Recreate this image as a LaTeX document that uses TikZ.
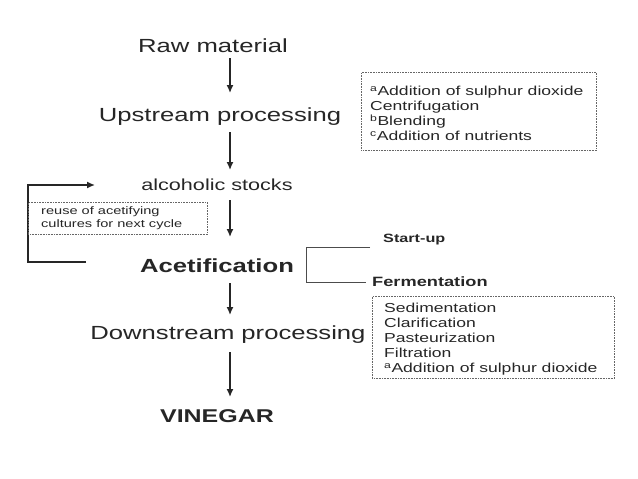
\documentclass[tikz,border=0pt]{standalone}
\usepackage{fontspec}
\setmainfont[FakeStretch=1.35]{Liberation Sans}
\usetikzlibrary{arrows.meta}
\begin{document}
\begin{tikzpicture}[x=1pt,y=-1pt,
 lab/.style={text=black!85,inner sep=0pt},
 arr/.style={-{Latex[length=8pt,width=7pt]},line width=1.4pt,black!85},
 dbox/.style={draw=black!60,densely dotted,line width=0.6pt},
 small/.style={lab,font=\fontsize{13}{15}\selectfont,align=left,anchor=north west}]
\useasboundingbox (0,0) rectangle (638,479);
\node[lab,font=\fontsize{19}{22}\selectfont] (raw) at (213,46) {Raw material};
\node[lab,font=\fontsize{19}{22}\selectfont] (up) at (220,117) {Upstream processing};
\node[lab,font=\fontsize{16}{19}\selectfont] (alc) at (217,185) {alcoholic stocks};
\node[lab,font=\bfseries\fontsize{19}{22}\selectfont] (ace) at (217,266) {Acetification};
\node[lab,font=\fontsize{19}{22}\selectfont] (down) at (228,335) {Downstream processing};
\node[lab,font=\bfseries\fontsize{18.5}{22}\selectfont] (vin) at (217,416) {VINEGAR};
\coordinate (a1) at (230,58); \coordinate (b1) at (230,93);
\coordinate (a2) at (230,132); \coordinate (b2) at (230,170);
\coordinate (a3) at (230,200); \coordinate (b3) at (230,237);
\coordinate (a4) at (230,283); \coordinate (b4) at (230,315);
\coordinate (a5) at (230,352); \coordinate (b5) at (230,397);
\foreach \i in {1,...,5} \draw[arr] (a\i) -- (b\i);
\coordinate (f1) at (86,262); \coordinate (f2) at (95,185);
\draw[arr] (f1) -- (28,262) -- (28,185) -- (f2);
\node[dbox,minimum width=179pt,minimum height=32pt,anchor=north west] (rb) at (28,202) {};
\node[lab,font=\fontsize{10.8}{13}\selectfont,align=left,anchor=north west] (rt) at (41,206) {reuse of acetifying\\cultures for next cycle};
\coordinate (br1) at (370,247); \coordinate (br2) at (366,282);
\draw[line width=0.8pt,black!70] (br1) -- (306,247) -- (306,282) -- (br2);
\node[lab,font=\bfseries\fontsize{12}{14}\selectfont,anchor=west] (su) at (383,240) {Start-up};
\node[lab,font=\bfseries\fontsize{13.5}{16}\selectfont,anchor=west] (fe) at (372,282) {Fermentation};
\node[dbox,minimum width=235pt,minimum height=78pt,anchor=north west] (ub) at (361,72) {};
\node[small] (ut) at (370,86) {\textsuperscript{a}Addition of sulphur dioxide\\Centrifugation\\\textsuperscript{b}Blending\\\textsuperscript{c}Addition of nutrients};
\node[dbox,minimum width=242pt,minimum height=82pt,anchor=north west] (db) at (372,296) {};
\node[small] (dt) at (384,303) {Sedimentation\\Clarification\\Pasteurization\\Filtration\\\textsuperscript{a}Addition of sulphur dioxide};
\end{tikzpicture}
\end{document}
